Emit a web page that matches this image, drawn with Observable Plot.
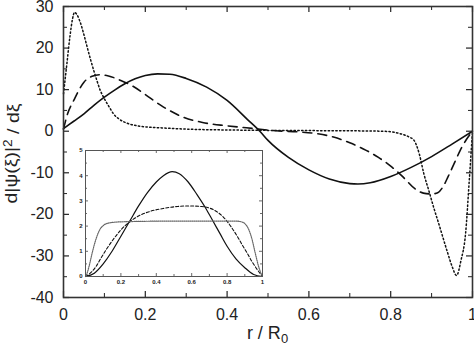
<!DOCTYPE html>
<html>
<head>
<meta charset="utf-8">
<script src="https://cdn.jsdelivr.net/npm/d3@7"></script>
<script src="https://cdn.jsdelivr.net/npm/@observablehq/plot@0.6"></script>
<style>
  body { margin: 0; background: white; }
  #wrap { position: relative; width: 474px; height: 351px; overflow: hidden; }
  #wrap svg { position: absolute; }
</style>
</head>
<body>
<div id="wrap"></div>
<script>
// ---- Main chart data: d|psi(xi)|^2 / dxi versus r/R0 ----
const solidX  = [0, 0.025, 0.05, 0.075, 0.1, 0.125, 0.15, 0.175, 0.2, 0.23, 0.26, 0.3, 0.35, 0.4, 0.45, 0.48, 0.5, 0.55, 0.6, 0.65, 0.7, 0.72, 0.75, 0.8, 0.85, 0.9, 0.95, 1];
const solidY  = [0.6, 2.4, 4.2, 6.3, 8.2, 9.9, 11.4, 12.6, 13.4, 13.8, 13.7, 12.7, 10.6, 7.4, 2.8, 0, -2.2, -6.3, -9.3, -11.5, -12.6, -12.7, -12.4, -10.9, -8.7, -6.1, -3.1, 0];

const dashedX = [0, 0.01, 0.025, 0.05, 0.07, 0.09, 0.11, 0.14, 0.17, 0.2, 0.24, 0.29, 0.34, 0.4, 0.47, 0.52, 0.58, 0.62, 0.66, 0.7, 0.74, 0.77, 0.8, 0.83, 0.86, 0.88, 0.9, 0.915, 0.93, 0.94, 0.955, 0.97, 0.985, 1];
const dashedY = [0.5, 4.2, 7.4, 11.8, 13.2, 13.6, 13.3, 12.2, 10.8, 8.8, 6.1, 3.5, 2.1, 1.3, 0.6, 0.1, -0.2, -0.6, -1.4, -2.8, -4.6, -6.3, -8.4, -11, -13.9, -14.9, -15.1, -14.8, -13, -11, -7.8, -4.6, -2, 0];

const dottedX = [0, 0.008, 0.016, 0.022, 0.027, 0.033, 0.042, 0.05, 0.058, 0.066, 0.074, 0.082, 0.09, 0.1, 0.107, 0.115, 0.122, 0.135, 0.156, 0.18, 0.205, 0.24, 0.278, 0.335, 0.4, 0.5, 0.6, 0.7, 0.78, 0.81, 0.83, 0.845, 0.857, 0.87, 0.881, 0.893, 0.905, 0.918, 0.93, 0.94, 0.95, 0.961, 0.972, 0.983, 0.992, 1];
const dottedY = [9, 16, 23, 27, 28.6, 28, 25.9, 23.2, 20.2, 17.3, 14.6, 12.1, 9.8, 7.8, 6.6, 5.3, 4.2, 3, 1.9, 1.3, 1, 0.8, 0.6, 0.4, 0.3, 0.2, 0.15, 0.1, 0, -0.3, -0.8, -1.4, -2.2, -5.5, -10.2, -14.2, -18.3, -22.4, -26.3, -29.5, -32.5, -34.7, -31, -24.7, -12, 0];

const xTicks = [0, 0.2, 0.4, 0.6, 0.8, 1];
const xMinor = [0.1, 0.3, 0.5, 0.7, 0.9];
const yTicks = [-40, -30, -20, -10, 0, 10, 20, 30];
const yMinor = [-35, -25, -15, -5, 5, 15, 25];

// ---- Inset data: |psi(xi)|^2 versus r/R0 ----
const inSolidX  = [0, 0.05, 0.1, 0.15, 0.2, 0.25, 0.3, 0.35, 0.4, 0.44, 0.49, 0.53, 0.58, 0.63, 0.68, 0.72, 0.76, 0.8, 0.85, 0.9, 0.95, 1];
const inSolidY  = [0, 0.13, 0.5, 1.0, 1.6, 2.2, 2.8, 3.33, 3.75, 4.0, 4.16, 4.08, 3.75, 3.25, 2.7, 2.2, 1.7, 1.2, 0.7, 0.35, 0.08, 0];

const inDashedX = [0, 0.03, 0.06, 0.085, 0.12, 0.16, 0.2, 0.255, 0.3, 0.35, 0.44, 0.52, 0.59, 0.65, 0.69, 0.74, 0.78, 0.82, 0.857, 0.89, 0.91, 0.94, 0.97, 1];
const inDashedY = [0, 0.15, 0.4, 0.7, 1.1, 1.5, 1.85, 2.2, 2.4, 2.55, 2.7, 2.78, 2.8, 2.78, 2.74, 2.58, 2.35, 2.0, 1.6, 1.2, 0.97, 0.6, 0.28, 0];

const inDottedX = [0, 0.01, 0.02, 0.03, 0.04, 0.06, 0.08, 0.1, 0.13, 0.2, 0.5, 0.85, 0.88, 0.9, 0.92, 0.94, 0.96, 0.98, 1];
const inDottedY = [0, 0.15, 0.4, 0.7, 1.0, 1.5, 1.85, 2.02, 2.12, 2.17, 2.2, 2.2, 2.17, 2.1, 1.9, 1.5, 0.9, 0.35, 0];

const inXTicks = [0, 0.2, 0.4, 0.6, 0.8, 1];
const inXMinor = [0.1, 0.3, 0.5, 0.7, 0.9];
const inYTicks = [0, 1, 2, 3, 4, 5];
const inYMinor = [0.5, 1.5, 2.5, 3.5, 4.5];

const pts = (xs, ys) => xs.map((x, i) => ({x, y: ys[i]}));
const ink = "#222";

// ---- Main plot ----
const W = 474, H = 351, mL = 63, mR = 2, mT = 6, mB = 54;
const pw = W - mL - mR, ph = H - mT - mB;

const main = Plot.plot({
  width: W, height: H,
  marginLeft: mL, marginRight: mR, marginTop: mT, marginBottom: mB,
  x: {domain: [0, 1]},
  y: {domain: [-40, 30]},
  style: {fontFamily: "'Liberation Sans', Arial, sans-serif", fontSize: "16px", color: ink, background: "white"},
  marks: [
    Plot.line(pts(solidX, solidY), {x: "x", y: "y", stroke: "#111", strokeWidth: 1.6, curve: "monotone-x"}),
    Plot.line(pts(dashedX, dashedY), {x: "x", y: "y", stroke: "#111", strokeWidth: 1.6, strokeDasharray: "9,6", curve: "monotone-x"}),
    Plot.line(pts(dottedX, dottedY), {x: "x", y: "y", stroke: "#111", strokeWidth: 1.5, strokeDasharray: "1.4,2.4", curve: "monotone-x"}),
    // inward ticks
    Plot.tickY(yTicks, {y: d => d, insetRight: pw - 6, stroke: ink, strokeWidth: 1.2}),
    Plot.tickY(yMinor, {y: d => d, insetRight: pw - 4, stroke: ink, strokeWidth: 1}),
    Plot.tickY(yTicks, {y: d => d, insetLeft: pw - 6, stroke: ink, strokeWidth: 1.2}),
    Plot.tickY(yMinor, {y: d => d, insetLeft: pw - 4, stroke: ink, strokeWidth: 1}),
    Plot.tickX(xTicks, {x: d => d, insetTop: ph - 6, stroke: ink, strokeWidth: 1.2}),
    Plot.tickX(xMinor, {x: d => d, insetTop: ph - 4, stroke: ink, strokeWidth: 1}),
    Plot.tickX(xTicks, {x: d => d, insetBottom: ph - 6, stroke: ink, strokeWidth: 1.2}),
    Plot.tickX(xMinor, {x: d => d, insetBottom: ph - 4, stroke: ink, strokeWidth: 1}),
    Plot.axisX(xTicks, {tickSize: 0, tickPadding: 11, tickFormat: d => String(d), label: null}),
    Plot.axisY(yTicks, {tickSize: 0, tickPadding: 10, tickFormat: d => String(d), label: null}),
    Plot.frame({stroke: "#333", strokeWidth: 1.6})
  ]
});

// axis titles (real text with sub/superscripts)
const ms = d3.select(main);
const xt = ms.append("text")
  .attr("x", mL + pw / 2).attr("y", 339)
  .attr("text-anchor", "middle")
  .attr("font-size", 18).attr("fill", ink);
xt.append("tspan").text("r / R");
xt.append("tspan").attr("dy", "0.3em").attr("font-size", 13).text("0");

const yt = ms.append("text")
  .attr("transform", `translate(17,${mT + ph / 2 + 2}) rotate(-90)`)
  .attr("text-anchor", "middle")
  .attr("font-size", 17).attr("fill", ink)
  .attr("textLength", 100).attr("lengthAdjust", "spacingAndGlyphs");
yt.append("tspan").text("d|ψ(ξ)|");
yt.append("tspan").attr("dy", "-0.45em").attr("font-size", 12).text("2");
yt.append("tspan").attr("dy", "0.45em").text(" / dξ");

// ---- Inset plot ----
const iW = 196, iH = 144, iL = 15, iR = 4, iT = 4, iB = 14;
const ipw = iW - iL - iR, iph = iH - iT - iB;
const inset = Plot.plot({
  width: iW, height: iH,
  marginLeft: iL, marginRight: iR, marginTop: iT, marginBottom: iB,
  x: {domain: [0, 1]},
  y: {domain: [0, 5]},
  style: {fontFamily: "'Liberation Sans', Arial, sans-serif", fontSize: "6px", fontWeight: "bold", color: ink, background: "transparent"},
  marks: [
    Plot.rect([0], {x1: 0, x2: 1, y1: 0, y2: 5, fill: "white"}),
    Plot.line(pts(inSolidX, inSolidY), {x: "x", y: "y", stroke: "#111", strokeWidth: 1.2, curve: "monotone-x"}),
    Plot.line(pts(inDashedX, inDashedY), {x: "x", y: "y", stroke: "#111", strokeWidth: 1.1, strokeDasharray: "3,2", curve: "monotone-x"}),
    Plot.line(pts(inDottedX, inDottedY), {x: "x", y: "y", stroke: "#666", strokeWidth: 1.2, strokeDasharray: "1,1", curve: "monotone-x"}),
    Plot.tickY(inYTicks, {y: d => d, insetRight: ipw - 3, stroke: "#444", strokeWidth: 0.8}),
    Plot.tickY(inYMinor, {y: d => d, insetRight: ipw - 2, stroke: "#444", strokeWidth: 0.8}),
    Plot.tickY(inYTicks, {y: d => d, insetLeft: ipw - 3, stroke: "#444", strokeWidth: 0.8}),
    Plot.tickY(inYMinor, {y: d => d, insetLeft: ipw - 2, stroke: "#444", strokeWidth: 0.8}),
    Plot.tickX(inXTicks, {x: d => d, insetTop: iph - 3, stroke: "#444", strokeWidth: 0.8}),
    Plot.tickX(inXMinor, {x: d => d, insetTop: iph - 2, stroke: "#444", strokeWidth: 0.8}),
    Plot.tickX(inXTicks, {x: d => d, insetBottom: iph - 3, stroke: "#444", strokeWidth: 0.8}),
    Plot.tickX(inXMinor, {x: d => d, insetBottom: iph - 2, stroke: "#444", strokeWidth: 0.8}),
    Plot.axisX(inXTicks, {tickSize: 0, tickPadding: 3, tickFormat: d => String(d), label: null}),
    Plot.axisY(inYTicks, {tickSize: 0, tickPadding: 3, tickFormat: d => String(d), label: null}),
    Plot.frame({stroke: "#555", strokeWidth: 1})
  ]
});

const wrap = document.getElementById("wrap");
main.style.left = "0px"; main.style.top = "0px";
inset.style.left = "70px"; inset.style.top = "146px";
wrap.appendChild(main);
wrap.appendChild(inset);
</script>
</body>
</html>
